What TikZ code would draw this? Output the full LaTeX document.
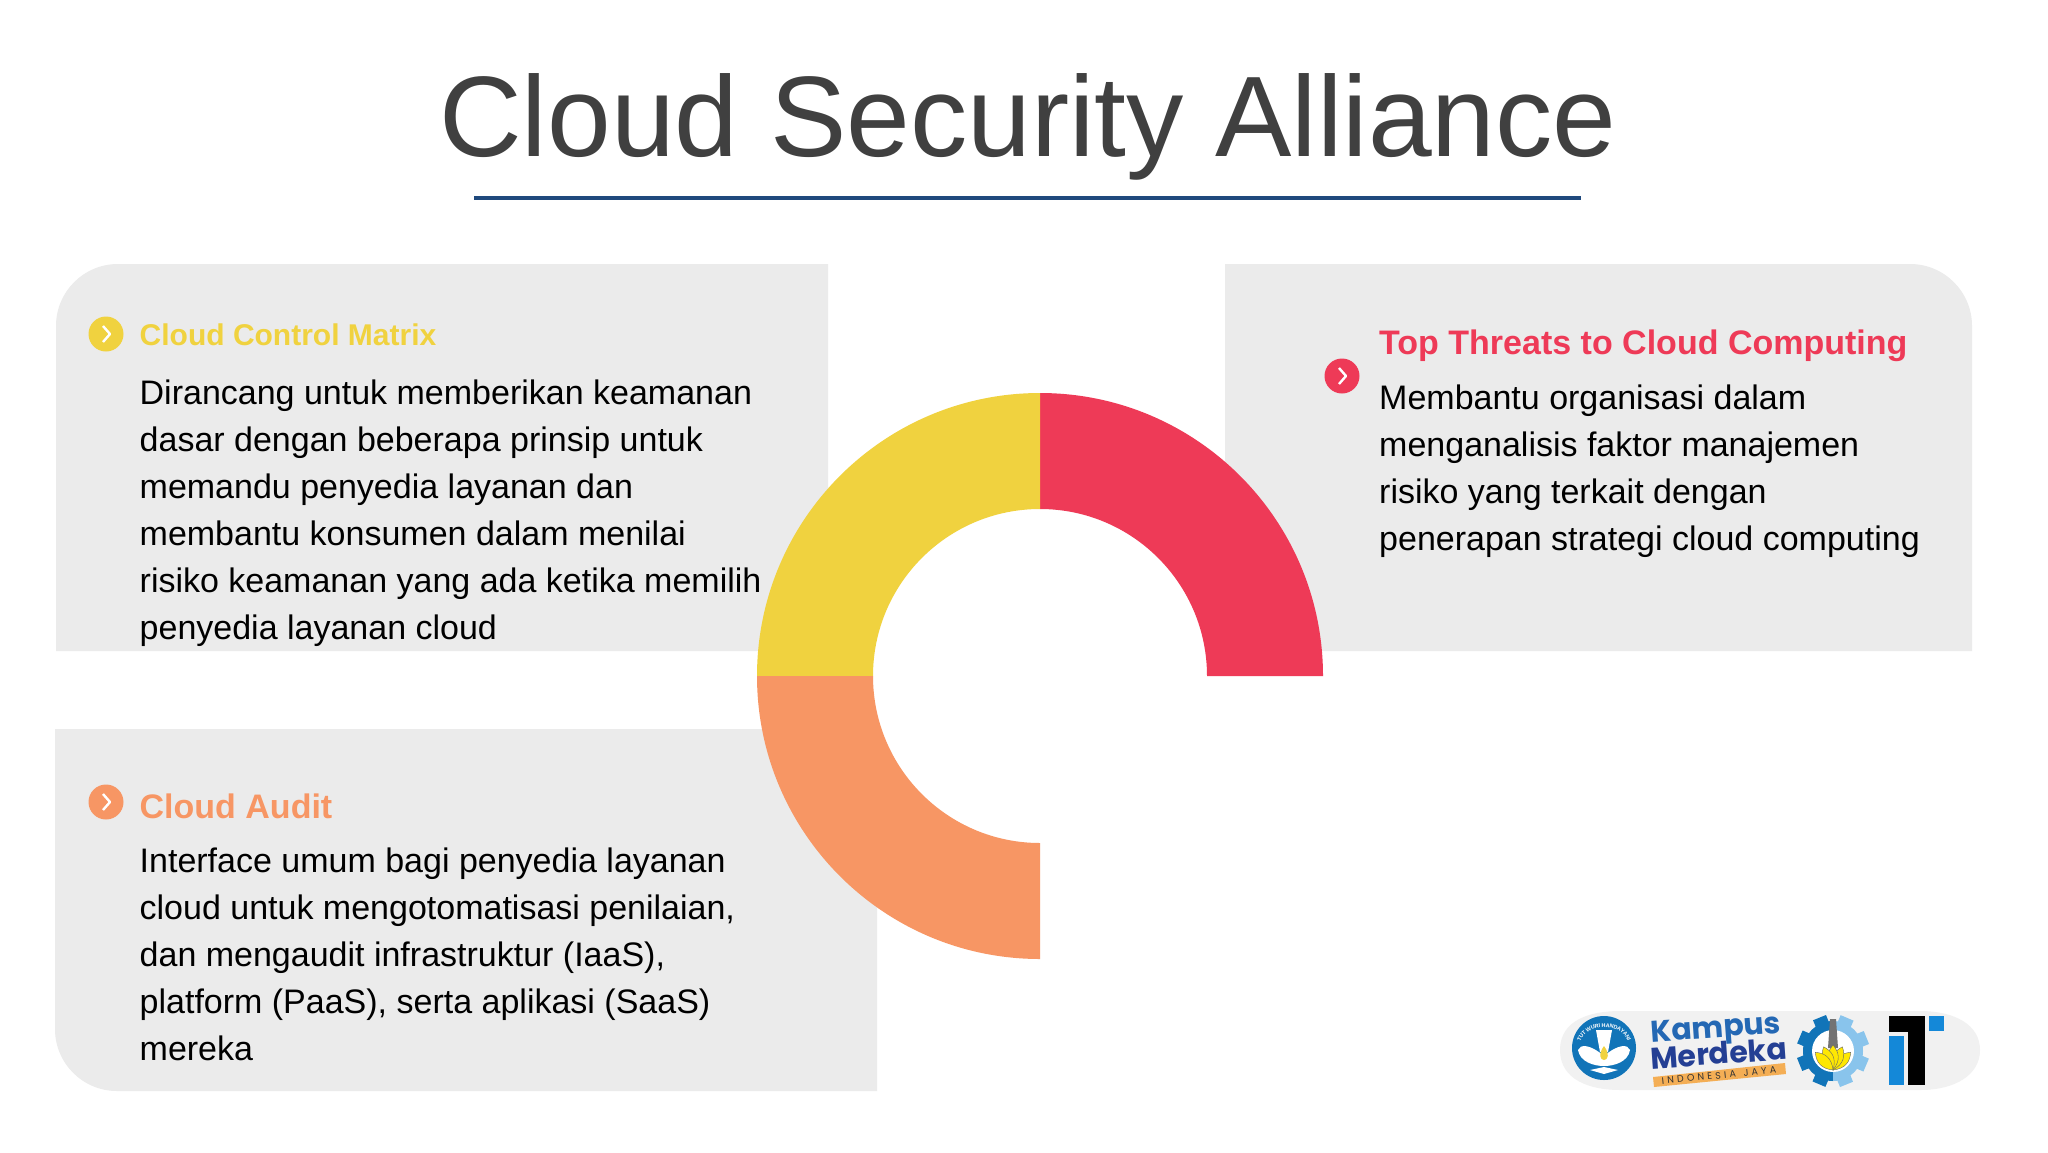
\documentclass[tikz,border=0pt]{standalone}
\usepackage{fontspec}
\setmainfont{Liberation Sans}
\newfontfamily\logofont{Poppins}
\usetikzlibrary{positioning}
\usetikzlibrary{calc}
\usetikzlibrary{decorations.text}
\definecolor{panelgray}{HTML}{EBEBEB}
\definecolor{cloudyellow}{HTML}{F0D23F}
\definecolor{cloudred}{HTML}{EE3A57}
\definecolor{cloudorange}{HTML}{F79664}
\definecolor{titlegray}{HTML}{404040}
\definecolor{rulenavy}{HTML}{1F497D}
\definecolor{itblue}{HTML}{1488D8}
\definecolor{kampusblue}{HTML}{2468B4}
\definecolor{merdekablue}{HTML}{243F94}
\tikzstyle{panel}=[fill=panelgray,draw=none]
\tikzstyle{bullet}=[circle,minimum size=35pt,inner sep=0pt,draw=none]
\tikzstyle{chevron}=[draw=white,line width=2.4pt,line join=round]
\tikzstyle{heading}=[anchor=base west,inner sep=0pt,font=\fontsize{34}{36}\selectfont\bfseries]
\tikzstyle{bodytext}=[anchor=base west,inner sep=0pt,align=left,text=black,font=\fontsize{34}{47}\selectfont]
\begin{document}
\begin{tikzpicture}[x=1pt,y=-1pt]

   \useasboundingbox (0,0) rectangle (2048,1152);
   \fill[white] (0,0) rectangle (2048,1152);

   % panels
   \fill[panel] (56,651) [rounded corners=62pt] -- (56,264) [sharp corners] -- (828,264) -- (828,651) -- cycle;
   \fill[panel] (1225,264) -- (1225,651) -- (1972,651) [rounded corners=62pt] -- (1972,264) [sharp corners] -- cycle;
   \fill[panel] (877,729) -- (55,729) [rounded corners=62pt] -- (55,1091) [sharp corners] -- (877,1091) -- cycle;

   % ring
   \foreach \from/\to/\col in {90/0/cloudred, 180/90/cloudyellow, 270/180/cloudorange}
      \fill[\col] ($(1040,676)+(\from:283pt)$) arc[start angle=\from, end angle=\to, radius=283pt]
         -- ($(1040,676)+(\to:167pt)$) arc[start angle=\to, end angle=\from, radius=167pt] -- cycle;

   % title
   \node[anchor=base,inner sep=0pt,text=titlegray,font=\fontsize{114.5}{120}\selectfont] (title) at (1028,156) {Cloud Security Alliance};
   \coordinate (ruleleft) at (474,198);
   \coordinate (ruleright) at (1581,198);
   \draw[rulenavy,line width=4pt] (ruleleft) -- (ruleright);

   % bullets
   \foreach \pos/\name/\col in {{(106,334)/bulletcontrol/cloudyellow}, {(1342,376)/bulletthreats/cloudred}, {(106,802)/bulletaudit/cloudorange}}
      \node[bullet,fill=\col] (\name) at \pos {};
   \foreach \name in {bulletcontrol,bulletthreats,bulletaudit}
      \draw[chevron] ([shift={(-3,-8)}]\name.center) -- ([shift={(4,0)}]\name.center) -- ([shift={(-3,8)}]\name.center);

   % texts
   \node[heading,text=cloudyellow,font=\fontsize{30}{36}\selectfont\bfseries] (headcontrol) at (139.5,345) {Cloud Control Matrix};
   \node[bodytext] (bodycontrol) at (139.5,639) {Dirancang untuk memberikan keamanan\\dasar dengan beberapa prinsip untuk\\memandu penyedia layanan dan\\membantu konsumen dalam menilai\\risiko keamanan yang ada ketika memilih\\penyedia layanan cloud};

   \node[heading,text=cloudred] (headthreats) at (1379,354) {Top Threats to Cloud Computing};
   \node[bodytext] (bodythreats) at (1379,550) {Membantu organisasi dalam\\menganalisis faktor manajemen\\risiko yang terkait dengan\\penerapan strategi cloud computing};

   \node[heading,text=cloudorange] (headaudit) at (139.5,818) {Cloud Audit};
   \node[bodytext] (bodyaudit) at (139.5,1060) {Interface umum bagi penyedia layanan\\cloud untuk mengotomatisasi penilaian,\\dan mengaudit infrastruktur (IaaS),\\platform (PaaS), serta aplikasi (SaaS)\\mereka};

   % logo strip
   \fill[panelgray!70!white] (1560,1050) .. controls (1560,1020) and (1590,1011) .. (1620,1011) -- (1920,1011)
      .. controls (1955,1011) and (1980,1025) .. (1980,1050) .. controls (1980,1075) and (1955,1090) .. (1920,1090)
      -- (1620,1090) .. controls (1590,1090) and (1560,1080) .. (1560,1050) -- cycle;

   % kemdikbud mark
   \fill[itblue!85!black] (1604,1048) circle (32pt);
   \path[postaction={decorate,decoration={text along path,text align=center,raise=-1.5pt,
      text={|\fontsize{5.5}{6}\selectfont\bfseries\color{white}|TUT WURI HANDAYANI}}}]
      (1578,1044) .. controls (1582,1020) and (1626,1020) .. (1630,1044);
   \fill[white] (1604,1056) .. controls (1590,1044) and (1580,1044) .. (1578,1050) .. controls (1580,1062) and (1594,1066) .. (1604,1066)
      .. controls (1614,1066) and (1628,1062) .. (1630,1050) .. controls (1628,1044) and (1618,1044) .. (1604,1056) -- cycle;
   \fill[white] (1596,1030) -- (1612,1030) -- (1608,1052) -- (1600,1052) -- cycle;
   \fill[cloudyellow] (1604,1046) .. controls (1610,1054) and (1608,1060) .. (1604,1060) .. controls (1600,1060) and (1598,1054) .. (1604,1046) -- cycle;
   \fill[white] (1590,1070) -- (1604,1067) -- (1618,1070) -- (1604,1074) -- cycle;

   % kampus merdeka
   \node[anchor=base west,inner sep=0pt,rotate=4,text=kampusblue,font=\logofont\fontsize{30}{31}\selectfont\bfseries] (kampus) at (1651,1042) {Kampus};
   \node[anchor=base west,inner sep=0pt,rotate=4,text=merdekablue,font=\logofont\fontsize{30}{31}\selectfont\bfseries] (merdeka) at (1651,1069) {Merdeka};
   \fill[cloudorange!60!cloudyellow] (1653,1077) -- (1785,1063) -- (1786,1074) -- (1654,1087) -- cycle;
   \node[rotate=5.5,inner sep=0pt,font=\logofont\fontsize{9.5}{10}\selectfont,text=black!80] (jaya) at (1719,1075.5) {I\,\,N\,\,D\,\,O\,\,N\,\,E\,\,S\,\,I\,\,A\ \ \ J\,\,A\,\,Y\,\,A};

   % gear
   \begin{scope}
      \clip (1790,1000) rectangle (1833,1100);
      \foreach \ang in {0,45,...,315}
         \fill[itblue!85!black,shift={(1833,1051)},rotate=\ang+22] (-7,-36) rectangle (7,-24);
      \fill[itblue!85!black] (1833,1051) circle (30pt);
   \end{scope}
   \begin{scope}
      \clip (1833,1000) rectangle (1880,1100);
      \foreach \ang in {0,45,...,315}
         \fill[itblue!50!white,shift={(1833,1051)},rotate=\ang+22] (-7,-36) rectangle (7,-24);
      \fill[itblue!50!white] (1833,1051) circle (30pt);
   \end{scope}
   \fill[white] (1833,1051) circle (21pt);
   \fill[black!55] (1830,1019) -- (1836,1019) -- (1838,1048) -- (1828,1048) -- cycle;
   \foreach \ang in {-45,-22,0,22,45}
      \fill[yellow!90!orange,draw=black!60,line width=0.4pt,shift={(1833,1070)},rotate=\ang] (0,0) .. controls (-8,-10) and (-6,-18) .. (0,-25) .. controls (6,-18) and (8,-10) .. (0,0) -- cycle;

   % it mark
   \foreach \xa/\ya/\xb/\yb/\col in {1889/1016/1925/1032/black, 1908/1016/1925/1085/black, 1889/1036/1904/1085/itblue, 1929/1016/1944/1031/itblue}
      \fill[\col] (\xa,\ya) rectangle (\xb,\yb);

\end{tikzpicture}
\end{document}
